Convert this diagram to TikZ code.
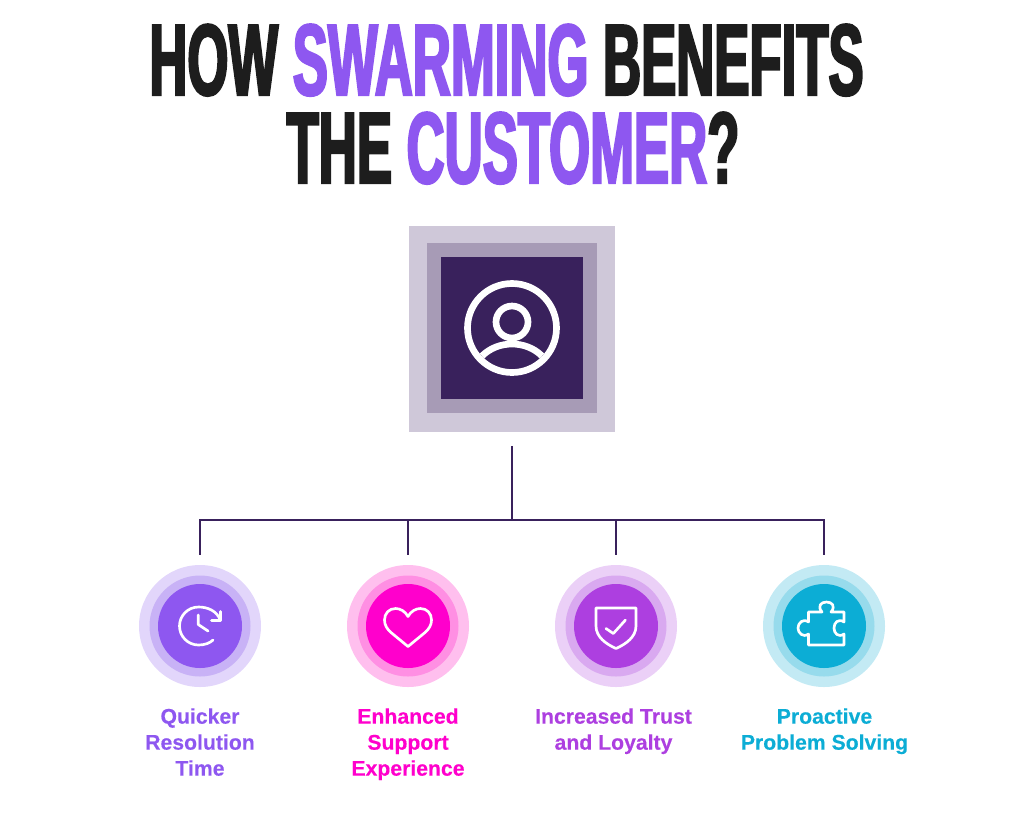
\documentclass[tikz,border=0pt]{standalone}
\usepackage{fontspec}
\usepackage{xcolor}
\usetikzlibrary{positioning, calc}
\newfontfamily\titlefont[FakeStretch=0.52, FakeBold=2.2, WordSpace=1.0]{Liberation Sans Bold}
\newfontfamily\labelfont[FakeBold=0.25]{Liberation Sans Bold}
\definecolor{inkcolor}{RGB}{29,29,29}
\definecolor{deepcolor}{RGB}{57,33,92}
\definecolor{midcolor}{RGB}{167,155,182}
\definecolor{palecolor}{RGB}{207,200,217}
\definecolor{violet1}{RGB}{142,87,240}
\definecolor{violet2}{RGB}{200,178,246}
\definecolor{violet3}{RGB}{226,214,251}
\definecolor{pink1}{RGB}{255,0,204}
\definecolor{pink2}{RGB}{255,143,227}
\definecolor{pink3}{RGB}{255,191,238}
\definecolor{plum1}{RGB}{173,63,224}
\definecolor{plum2}{RGB}{217,169,240}
\definecolor{plum3}{RGB}{235,208,247}
\definecolor{teal1}{RGB}{12,173,213}
\definecolor{teal2}{RGB}{151,219,236}
\definecolor{teal3}{RGB}{195,234,244}
\tikzset{
  square/.style={rectangle, draw=none, fill=#1},
  disc/.style={circle, draw=none, fill=#1, inner sep=0pt},
  outerdisc/.style={disc=#1, minimum size=91.5pt},
  middisc/.style={disc=#1, minimum size=75.75pt},
  innerdisc/.style={disc=#1, minimum size=63pt},
  treeline/.style={draw=deepcolor, line width=2.2pt},
  bigicon/.style={draw=white, line width=5pt},
  smallicon/.style={draw=white, line width=2pt, line cap=round, line join=round},
  headline/.style={font=\titlefont\fontsize{76}{76}\selectfont, color=inkcolor, inner sep=0pt, text height=57pt, text depth=0pt, anchor=base},
  caption/.style={font=\labelfont\fontsize{15.9}{19.5}\selectfont, align=center, anchor=north, inner sep=0pt}
}

\begin{document}
\begin{tikzpicture}[x=0.75pt, y=-0.75pt]
    \useasboundingbox (0, 0) rectangle (1024, 819);

    % Title
    \node[headline] (title_top) at (506.5, 95) {HOW \textcolor{violet1}{SWARMING} BENEFITS};
    \node[headline] (title_bottom) at (513, 183) {THE \textcolor{violet1}{CUSTOMER}?};

    % Customer block
    \node[square=palecolor, minimum size=154.5pt] (customer) at (512, 328.5) {};
    \node[square=midcolor, minimum size=127.5pt] (customer_mid) at (512, 328) {};
    \node[square=deepcolor, minimum size=106.5pt] (customer_core) at (512, 328) {};
    \draw[bigicon] (512, 328) circle[radius=44.5];
    \draw[bigicon] (512, 322) circle[radius=16];
    \draw[bigicon] (482, 356) .. controls (490, 348) and (501, 344) .. (512, 344) .. controls (523, 344) and (534, 348) .. (542, 356);

    % Benefit badges
    \node[outerdisc=violet3] (quicker) at (200, 626) {};
    \node[middisc=violet2] (quicker_mid) at (200, 626) {};
    \node[innerdisc=violet1] (quicker_core) at (200, 626) {};
    \node[outerdisc=pink3] (enhanced) at (408, 626) {};
    \node[middisc=pink2] (enhanced_mid) at (408, 626) {};
    \node[innerdisc=pink1] (enhanced_core) at (408, 626) {};
    \node[outerdisc=plum3] (trust) at (616, 626) {};
    \node[middisc=plum2] (trust_mid) at (616, 626) {};
    \node[innerdisc=plum1] (trust_core) at (616, 626) {};
    \node[outerdisc=teal3] (proactive) at (824, 626) {};
    \node[middisc=teal2] (proactive_mid) at (824, 626) {};
    \node[innerdisc=teal1] (proactive_core) at (824, 626) {};

    % Tree
    \coordinate (trunk) at (512, 520);
    \draw[treeline, shorten <=10.5pt] (customer.south) -- (trunk);
    \draw[treeline, shorten >=7.5pt] (trunk) -| (quicker.north);
    \draw[treeline, shorten >=7.5pt] (trunk) -| (enhanced.north);
    \draw[treeline, shorten >=7.5pt] (trunk) -| (trust.north);
    \draw[treeline, shorten >=7.5pt] (trunk) -| (proactive.north);

    % Clock
    \draw[smallicon] (220.5, 620.5) .. controls (217, 611) and (208, 607) .. (198.5, 607) .. controls (188, 607) and (179.5, 615.5) .. (179.5, 626) .. controls (179.5, 636.5) and (188, 645) .. (198.5, 645) .. controls (205, 645) and (210, 643) .. (213, 640);
    \draw[smallicon] (220.7, 611.5) -- (220.7, 620.7) -- (211.5, 620.7);
    \draw[smallicon] (198.3, 615) -- (198.3, 624.5) -- (208, 631);

    % Heart
    \draw[smallicon] (408, 616.5) .. controls (405, 611) and (400, 608.5) .. (395.5, 608.5) .. controls (389, 608.5) and (384.5, 613.5) .. (384.5, 620) .. controls (384.5, 625) and (387, 629) .. (391, 632.5) -- (408, 646.5) -- (425, 632.5) .. controls (429, 629) and (431.5, 625) .. (431.5, 620) .. controls (431.5, 613.5) and (427, 608.5) .. (420.5, 608.5) .. controls (416, 608.5) and (411, 611) .. (408, 616.5) -- cycle;

    % Shield
    \draw[smallicon] (596, 608) -- (636, 608) -- (636, 626) .. controls (636, 637) and (626, 644) .. (616, 648.5) .. controls (606, 644) and (596, 637) .. (596, 626) -- cycle;
    \draw[smallicon] (606, 628.5) -- (613.3, 633.5) -- (625.5, 620);

    % Puzzle piece
    \draw[smallicon] (808.5, 612) -- (822, 612) .. controls (817, 606) and (821, 602) .. (826.5, 602) .. controls (832, 602) and (836, 606) .. (831, 612) -- (844, 612) -- (844, 622) .. controls (838, 618) and (834, 623) .. (834, 628) .. controls (834, 633) and (838, 638) .. (844, 634) -- (844, 645) -- (808.5, 645) -- (808.5, 634) .. controls (803, 638) and (798, 633) .. (798, 628) .. controls (798, 623) and (803, 618) .. (808.5, 622) -- cycle;

    % Captions
    \node[caption, color=violet1] (quicker_text) at (200, 708) {Quicker\\Resolution\\Time};
    \node[caption, color=pink1] (enhanced_text) at (408, 708) {Enhanced\\Support\\Experience};
    \node[caption, color=plum1] (trust_text) at (613.5, 708) {Increased Trust\\and Loyalty};
    \node[caption, color=teal1] (proactive_text) at (824.5, 708) {Proactive\\Problem Solving};
\end{tikzpicture}
\end{document}
